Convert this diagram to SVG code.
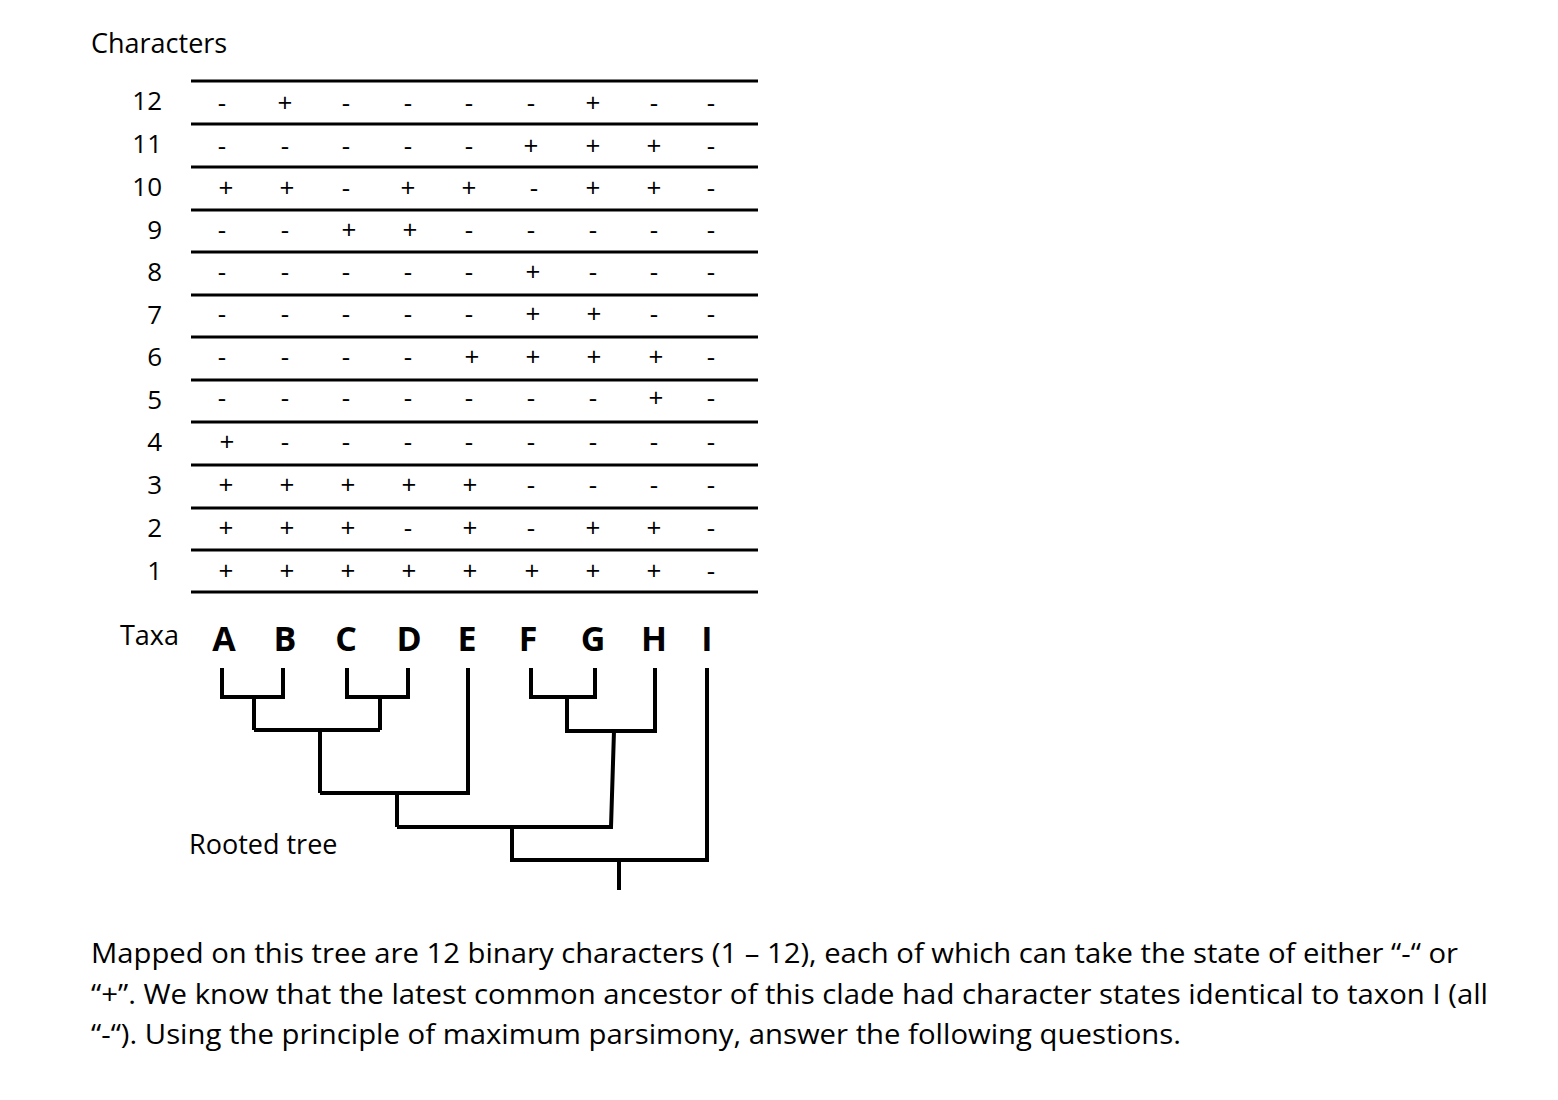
<svg xmlns="http://www.w3.org/2000/svg" width="1558" height="1100" viewBox="0 0 1558 1100">
<style>
text{font-family:"Open Sans","Liberation Sans",sans-serif;fill:#000}
.r{font-size:26px;text-anchor:end}
.s{font-size:26px;text-anchor:middle}
.t{font-size:34px;font-weight:bold;text-anchor:middle}
.p{font-size:27px}
.hl{stroke:#000;stroke-width:3}
.tr{stroke:#000;stroke-width:4;fill:none}
</style>
<rect width="1558" height="1100" fill="#fff"/>
<text x="91" y="53" font-size="27">Characters</text>
<g id="grid">
<g class="hl">
<line x1="191" y1="81" x2="758" y2="81"/><line x1="191" y1="124" x2="758" y2="124"/><line x1="191" y1="167" x2="758" y2="167"/><line x1="191" y1="210" x2="758" y2="210"/><line x1="191" y1="252" x2="758" y2="252"/><line x1="191" y1="295" x2="758" y2="295"/><line x1="191" y1="337" x2="758" y2="337"/><line x1="191" y1="380" x2="758" y2="380"/><line x1="191" y1="422" x2="758" y2="422"/><line x1="191" y1="465" x2="758" y2="465"/><line x1="191" y1="508" x2="758" y2="508"/><line x1="191" y1="550" x2="758" y2="550"/><line x1="191" y1="592" x2="758" y2="592"/>
</g>
<g class="r">
<text x="162" y="110">12</text><text x="162" y="153">11</text><text x="162" y="196">10</text><text x="162" y="239">9</text><text x="162" y="281">8</text><text x="162" y="324">7</text><text x="162" y="366">6</text><text x="162" y="409">5</text><text x="162" y="451">4</text><text x="162" y="494">3</text><text x="162" y="537">2</text><text x="162" y="580">1</text>
</g>
<g class="s">
<text y="112"><tspan x="222">-</tspan><tspan x="285">+</tspan><tspan x="346">-</tspan><tspan x="408">-</tspan><tspan x="469">-</tspan><tspan x="531">-</tspan><tspan x="593">+</tspan><tspan x="654">-</tspan><tspan x="711">-</tspan></text>
<text y="155"><tspan x="222">-</tspan><tspan x="285">-</tspan><tspan x="346">-</tspan><tspan x="408">-</tspan><tspan x="469">-</tspan><tspan x="531">+</tspan><tspan x="593">+</tspan><tspan x="654">+</tspan><tspan x="711">-</tspan></text>
<text y="197"><tspan x="226">+</tspan><tspan x="287">+</tspan><tspan x="346">-</tspan><tspan x="408">+</tspan><tspan x="469">+</tspan><tspan x="534">-</tspan><tspan x="593">+</tspan><tspan x="654">+</tspan><tspan x="711">-</tspan></text>
<text y="239"><tspan x="222">-</tspan><tspan x="285">-</tspan><tspan x="349">+</tspan><tspan x="410">+</tspan><tspan x="469">-</tspan><tspan x="531">-</tspan><tspan x="593">-</tspan><tspan x="654">-</tspan><tspan x="711">-</tspan></text>
<text y="281"><tspan x="222">-</tspan><tspan x="285">-</tspan><tspan x="346">-</tspan><tspan x="408">-</tspan><tspan x="469">-</tspan><tspan x="533">+</tspan><tspan x="593">-</tspan><tspan x="654">-</tspan><tspan x="711">-</tspan></text>
<text y="323"><tspan x="222">-</tspan><tspan x="285">-</tspan><tspan x="346">-</tspan><tspan x="408">-</tspan><tspan x="469">-</tspan><tspan x="533">+</tspan><tspan x="594">+</tspan><tspan x="654">-</tspan><tspan x="711">-</tspan></text>
<text y="366"><tspan x="222">-</tspan><tspan x="285">-</tspan><tspan x="346">-</tspan><tspan x="408">-</tspan><tspan x="472">+</tspan><tspan x="533">+</tspan><tspan x="594">+</tspan><tspan x="656">+</tspan><tspan x="711">-</tspan></text>
<text y="407"><tspan x="222">-</tspan><tspan x="285">-</tspan><tspan x="346">-</tspan><tspan x="408">-</tspan><tspan x="469">-</tspan><tspan x="531">-</tspan><tspan x="593">-</tspan><tspan x="656">+</tspan><tspan x="711">-</tspan></text>
<text y="451"><tspan x="227">+</tspan><tspan x="285">-</tspan><tspan x="346">-</tspan><tspan x="408">-</tspan><tspan x="469">-</tspan><tspan x="531">-</tspan><tspan x="593">-</tspan><tspan x="654">-</tspan><tspan x="711">-</tspan></text>
<text y="494"><tspan x="226">+</tspan><tspan x="287">+</tspan><tspan x="348">+</tspan><tspan x="409">+</tspan><tspan x="470">+</tspan><tspan x="531">-</tspan><tspan x="593">-</tspan><tspan x="654">-</tspan><tspan x="711">-</tspan></text>
<text y="537"><tspan x="226">+</tspan><tspan x="287">+</tspan><tspan x="348">+</tspan><tspan x="408">-</tspan><tspan x="470">+</tspan><tspan x="531">-</tspan><tspan x="593">+</tspan><tspan x="654">+</tspan><tspan x="711">-</tspan></text>
<text y="580"><tspan x="226">+</tspan><tspan x="287">+</tspan><tspan x="348">+</tspan><tspan x="409">+</tspan><tspan x="470">+</tspan><tspan x="532">+</tspan><tspan x="593">+</tspan><tspan x="654">+</tspan><tspan x="711">-</tspan></text>
</g>
</g>
<text x="120" y="645" font-size="27">Taxa</text>
<g id="taxa" class="t">
<text x="224" y="651">A</text><text x="285" y="651">B</text><text x="346" y="651">C</text><text x="409" y="651">D</text><text x="467" y="651">E</text><text x="528" y="651">F</text><text x="593" y="651">G</text><text x="654" y="651">H</text><text x="707" y="651">I</text>
</g>
<g id="tree" class="tr">
<path d="M222,668V697H283V668M254,697V730M347,668V697H408V668M380,697V730M254,730H380M320,730V793M468,668V793H320M397,793V827"/>
<path d="M531,668V697H595V668M567,697V731H655V668M614,731L611,827H397M512,827V860H707V668M619,860V890"/>
</g>
<text x="189" y="854" font-size="27">Rooted tree</text>
<g class="p">
<text x="91" y="963" class="p" textLength="1367" lengthAdjust="spacingAndGlyphs">Mapped on this tree are 12 binary characters (1 – 12), each of which can take the state of either “-“ or</text>
<text x="91" y="1004" class="p" textLength="1397" lengthAdjust="spacingAndGlyphs">“+”.  We know that the latest common ancestor of this clade had character states identical to taxon I (all</text>
<text x="91" y="1044" class="p" textLength="1090" lengthAdjust="spacingAndGlyphs">“-“).  Using the principle of maximum parsimony, answer the following questions.</text>
</g>
</svg>
